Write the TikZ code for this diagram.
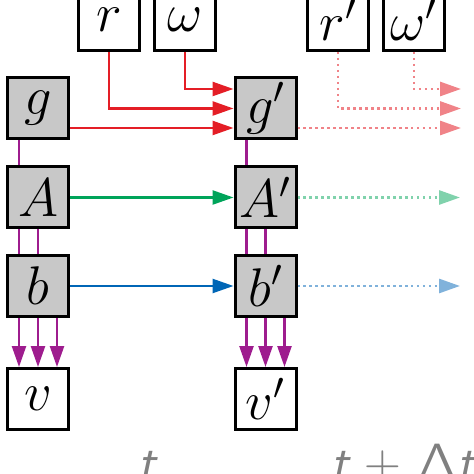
\RequirePackage{fix-cm}
\documentclass[tikz,border=0pt]{standalone}
\usetikzlibrary{arrows.meta}
\definecolor{gred}{RGB}{228,30,38}
\definecolor{ggreen}{RGB}{0,164,90}
\definecolor{gblue}{RGB}{0,102,182}
\definecolor{gpurple}{RGB}{158,28,142}
\definecolor{gfill}{RGB}{200,200,200}
\begin{document}
\begin{tikzpicture}[
  box/.style={draw, line width=1.7pt, minimum size=1.22cm, inner sep=0pt,
    font=\fontsize{31}{36}\selectfont},
  state/.style={box, fill=gfill},
  tip/.style={-{Triangle[length=0.42cm,width=0.28cm]}},
  flow/.style={tip, line width=1.4pt},
  next/.style={flow, dotted, line width=1.6pt},
  timelabel/.style={text=black!50, font=\fontsize{29}{34}\selectfont\sffamily}
]
\useasboundingbox (0,0) rectangle (9.48,9.48);

% inputs
\node[box] (r) at (2.18,9.08) {$r$};
\node[box] (w) at (3.70,9.08) {$\omega$};
\node[box] (rp) at (6.76,9.08) {$r'$};
\node[box] (wp) at (8.28,9.08) {$\omega'$};

% states at t and t+dt
\node[state] (g) at (0.76,7.31) {$g$};
\node[state] (A) at (0.76,5.53) {$A$};
\node[state] (b) at (0.76,3.76) {$b$};
\node[box] (v) at (0.76,1.50) {$v$};
\node[state] (gp) at (5.31,7.31) {$g'$};
\node[state] (Ap) at (5.31,5.53) {$A'$};
\node[state] (bp) at (5.31,3.76) {$b'$};
\node[box] (vp) at (5.31,1.50) {$v'$};

% step t -> t+dt
\draw[flow, gred] (r.south) |- (gp.west);
\draw[flow, gred] (w.south) |- ([yshift=0.39cm]gp.west);
\draw[flow, gred] ([yshift=-0.39cm]g.east) -- ([yshift=-0.39cm]gp.west);
\draw[flow, ggreen] (A.east) -- (Ap.west);
\draw[flow, gblue] (b.east) -- (bp.west);

% next step
\coordinate (gnext) at (9.22,7.31);
\coordinate (Anext) at (9.20,5.53);
\coordinate (bnext) at (9.20,3.76);
\draw[next, gred!55] (rp.south) |- (gnext);
\draw[next, gred!55] (wp.south) |- ([yshift=0.39cm]gnext);
\draw[next, gred!55] ([yshift=-0.39cm]gp.east) -- ([yshift=-0.39cm]gnext);
\draw[next, ggreen!50] (Ap.east) -- (Anext);
\draw[next, gblue!50] (bp.east) -- (bnext);

% coupling inside each column
\foreach \gn/\an/\bn/\vn in {g/A/b/v, gp/Ap/bp/vp}{
  \draw[gpurple, line width=1.4pt] ([xshift=-0.38cm]\gn.south) -- ([xshift=-0.38cm]\an.north);
  \foreach \x in {-0.38,0}
    \draw[gpurple, line width=1.4pt] ([xshift=\x cm]\an.south) -- ([xshift=\x cm]\bn.north);
  \foreach \x in {-0.38,0,0.38}
    \draw[flow, gpurple] ([xshift=\x cm]\bn.south) -- ([xshift=\x cm]\vn.north);
}

\node[timelabel, anchor=base] (tnow) at (2.94,-0.1) {\itshape t};
\node[timelabel, anchor=base west] (tnext) at (6.50,-0.1) {{\itshape t} $+$ $\mathsf{\Delta}${\itshape t}};
\end{tikzpicture}
\end{document}
